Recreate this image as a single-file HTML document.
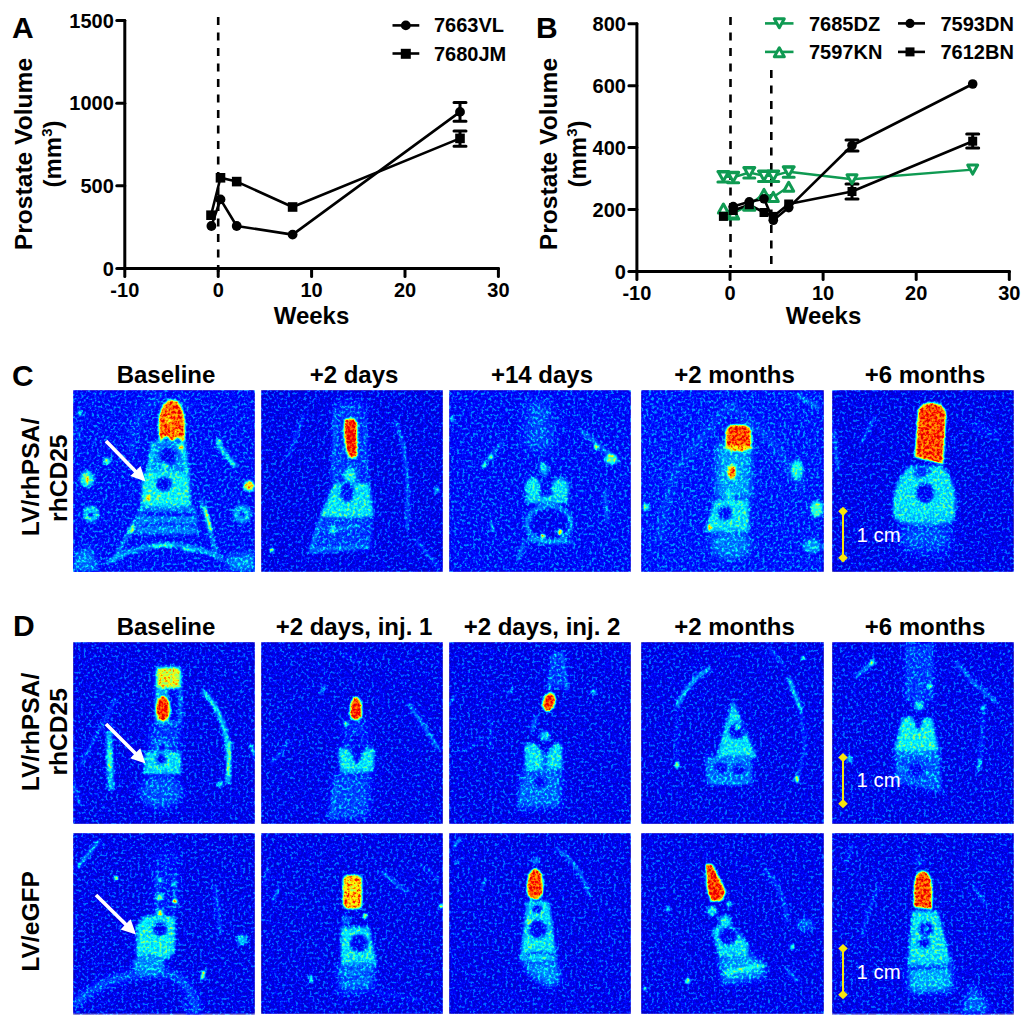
<!DOCTYPE html>
<html><head><meta charset="utf-8"><style>
html,body{margin:0;padding:0;background:#fff;width:1024px;height:1024px;overflow:hidden}
svg{display:block}
.t20{font-family:"Liberation Sans", sans-serif;font-weight:bold;font-size:20px}
.t24{font-family:"Liberation Sans", sans-serif;font-weight:bold;font-size:24px}
.t29{font-family:"Liberation Sans", sans-serif;font-weight:bold;font-size:30px}
.rl{font-size:24.6px}
svg text{-webkit-font-smoothing:antialiased}
.sc{font-family:"Liberation Sans", sans-serif;font-size:21px;fill:#fff}
</style></head><body>
<svg width="1024" height="1024" viewBox="0 0 1024 1024">
<rect width="1024" height="1024" fill="#fff"/>
<defs>
<filter id="jet1" x="0" y="0" width="1" height="1" color-interpolation-filters="sRGB" filterUnits="objectBoundingBox">
 <feGaussianBlur in="SourceGraphic" stdDeviation="0.8" result="b"/>
 <feTurbulence type="fractalNoise" baseFrequency="0.37" numOctaves="2" seed="1" result="n0"/>
 <feGaussianBlur in="n0" stdDeviation="0.45" result="n"/>
 <feColorMatrix in="n" type="matrix" values="1 0 0 0 0 1 0 0 0 0 1 0 0 0 0 0 0 0 0 1" result="ng"/>
 <feComponentTransfer in="ng" result="ns">
  <feFuncR type="linear" slope="2.4" intercept="-0.7"/><feFuncG type="linear" slope="2.4" intercept="-0.7"/><feFuncB type="linear" slope="2.4" intercept="-0.7"/>
 </feComponentTransfer>
 <feComponentTransfer in="ns" result="nq">
  <feFuncR type="gamma" amplitude="1" exponent="2.5" offset="0"/><feFuncG type="gamma" amplitude="1" exponent="2.5" offset="0"/><feFuncB type="gamma" amplitude="1" exponent="2.5" offset="0"/>
 </feComponentTransfer>
 <feComposite in="b" in2="nq" operator="arithmetic" k1="0" k2="1" k3="0.13" k4="-0.035" result="s1"/>
 <feComposite in="s1" in2="ns" operator="arithmetic" k1="0.18" k2="0.91" k3="0" k4="0" result="s"/>
 <feComponentTransfer in="s">
  <feFuncR type="table" tableValues="0 0 0 0 0.5 1 1 1 0.85"/>
  <feFuncG type="table" tableValues="0 0 0.5 1 1 1 0.5 0 0"/>
  <feFuncB type="table" tableValues="0.5 1 1 1 0.5 0 0 0 0"/>
 </feComponentTransfer>
</filter>
<filter id="jet2" x="0" y="0" width="1" height="1" color-interpolation-filters="sRGB" filterUnits="objectBoundingBox">
 <feGaussianBlur in="SourceGraphic" stdDeviation="0.8" result="b"/>
 <feTurbulence type="fractalNoise" baseFrequency="0.37" numOctaves="2" seed="2" result="n0"/>
 <feGaussianBlur in="n0" stdDeviation="0.45" result="n"/>
 <feColorMatrix in="n" type="matrix" values="1 0 0 0 0 1 0 0 0 0 1 0 0 0 0 0 0 0 0 1" result="ng"/>
 <feComponentTransfer in="ng" result="ns">
  <feFuncR type="linear" slope="2.4" intercept="-0.7"/><feFuncG type="linear" slope="2.4" intercept="-0.7"/><feFuncB type="linear" slope="2.4" intercept="-0.7"/>
 </feComponentTransfer>
 <feComponentTransfer in="ns" result="nq">
  <feFuncR type="gamma" amplitude="1" exponent="2.5" offset="0"/><feFuncG type="gamma" amplitude="1" exponent="2.5" offset="0"/><feFuncB type="gamma" amplitude="1" exponent="2.5" offset="0"/>
 </feComponentTransfer>
 <feComposite in="b" in2="nq" operator="arithmetic" k1="0" k2="1" k3="0.13" k4="-0.035" result="s1"/>
 <feComposite in="s1" in2="ns" operator="arithmetic" k1="0.18" k2="0.91" k3="0" k4="0" result="s"/>
 <feComponentTransfer in="s">
  <feFuncR type="table" tableValues="0 0 0 0 0.5 1 1 1 0.85"/>
  <feFuncG type="table" tableValues="0 0 0.5 1 1 1 0.5 0 0"/>
  <feFuncB type="table" tableValues="0.5 1 1 1 0.5 0 0 0 0"/>
 </feComponentTransfer>
</filter>
<filter id="jet3" x="0" y="0" width="1" height="1" color-interpolation-filters="sRGB" filterUnits="objectBoundingBox">
 <feGaussianBlur in="SourceGraphic" stdDeviation="0.8" result="b"/>
 <feTurbulence type="fractalNoise" baseFrequency="0.37" numOctaves="2" seed="3" result="n0"/>
 <feGaussianBlur in="n0" stdDeviation="0.45" result="n"/>
 <feColorMatrix in="n" type="matrix" values="1 0 0 0 0 1 0 0 0 0 1 0 0 0 0 0 0 0 0 1" result="ng"/>
 <feComponentTransfer in="ng" result="ns">
  <feFuncR type="linear" slope="2.4" intercept="-0.7"/><feFuncG type="linear" slope="2.4" intercept="-0.7"/><feFuncB type="linear" slope="2.4" intercept="-0.7"/>
 </feComponentTransfer>
 <feComponentTransfer in="ns" result="nq">
  <feFuncR type="gamma" amplitude="1" exponent="2.5" offset="0"/><feFuncG type="gamma" amplitude="1" exponent="2.5" offset="0"/><feFuncB type="gamma" amplitude="1" exponent="2.5" offset="0"/>
 </feComponentTransfer>
 <feComposite in="b" in2="nq" operator="arithmetic" k1="0" k2="1" k3="0.13" k4="-0.035" result="s1"/>
 <feComposite in="s1" in2="ns" operator="arithmetic" k1="0.18" k2="0.91" k3="0" k4="0" result="s"/>
 <feComponentTransfer in="s">
  <feFuncR type="table" tableValues="0 0 0 0 0.5 1 1 1 0.85"/>
  <feFuncG type="table" tableValues="0 0 0.5 1 1 1 0.5 0 0"/>
  <feFuncB type="table" tableValues="0.5 1 1 1 0.5 0 0 0 0"/>
 </feComponentTransfer>
</filter>
<filter id="jet4" x="0" y="0" width="1" height="1" color-interpolation-filters="sRGB" filterUnits="objectBoundingBox">
 <feGaussianBlur in="SourceGraphic" stdDeviation="0.8" result="b"/>
 <feTurbulence type="fractalNoise" baseFrequency="0.37" numOctaves="2" seed="4" result="n0"/>
 <feGaussianBlur in="n0" stdDeviation="0.45" result="n"/>
 <feColorMatrix in="n" type="matrix" values="1 0 0 0 0 1 0 0 0 0 1 0 0 0 0 0 0 0 0 1" result="ng"/>
 <feComponentTransfer in="ng" result="ns">
  <feFuncR type="linear" slope="2.4" intercept="-0.7"/><feFuncG type="linear" slope="2.4" intercept="-0.7"/><feFuncB type="linear" slope="2.4" intercept="-0.7"/>
 </feComponentTransfer>
 <feComponentTransfer in="ns" result="nq">
  <feFuncR type="gamma" amplitude="1" exponent="2.5" offset="0"/><feFuncG type="gamma" amplitude="1" exponent="2.5" offset="0"/><feFuncB type="gamma" amplitude="1" exponent="2.5" offset="0"/>
 </feComponentTransfer>
 <feComposite in="b" in2="nq" operator="arithmetic" k1="0" k2="1" k3="0.13" k4="-0.035" result="s1"/>
 <feComposite in="s1" in2="ns" operator="arithmetic" k1="0.18" k2="0.91" k3="0" k4="0" result="s"/>
 <feComponentTransfer in="s">
  <feFuncR type="table" tableValues="0 0 0 0 0.5 1 1 1 0.85"/>
  <feFuncG type="table" tableValues="0 0 0.5 1 1 1 0.5 0 0"/>
  <feFuncB type="table" tableValues="0.5 1 1 1 0.5 0 0 0 0"/>
 </feComponentTransfer>
</filter>
<filter id="jet5" x="0" y="0" width="1" height="1" color-interpolation-filters="sRGB" filterUnits="objectBoundingBox">
 <feGaussianBlur in="SourceGraphic" stdDeviation="0.8" result="b"/>
 <feTurbulence type="fractalNoise" baseFrequency="0.37" numOctaves="2" seed="5" result="n0"/>
 <feGaussianBlur in="n0" stdDeviation="0.45" result="n"/>
 <feColorMatrix in="n" type="matrix" values="1 0 0 0 0 1 0 0 0 0 1 0 0 0 0 0 0 0 0 1" result="ng"/>
 <feComponentTransfer in="ng" result="ns">
  <feFuncR type="linear" slope="2.4" intercept="-0.7"/><feFuncG type="linear" slope="2.4" intercept="-0.7"/><feFuncB type="linear" slope="2.4" intercept="-0.7"/>
 </feComponentTransfer>
 <feComponentTransfer in="ns" result="nq">
  <feFuncR type="gamma" amplitude="1" exponent="2.5" offset="0"/><feFuncG type="gamma" amplitude="1" exponent="2.5" offset="0"/><feFuncB type="gamma" amplitude="1" exponent="2.5" offset="0"/>
 </feComponentTransfer>
 <feComposite in="b" in2="nq" operator="arithmetic" k1="0" k2="1" k3="0.13" k4="-0.035" result="s1"/>
 <feComposite in="s1" in2="ns" operator="arithmetic" k1="0.18" k2="0.91" k3="0" k4="0" result="s"/>
 <feComponentTransfer in="s">
  <feFuncR type="table" tableValues="0 0 0 0 0.5 1 1 1 0.85"/>
  <feFuncG type="table" tableValues="0 0 0.5 1 1 1 0.5 0 0"/>
  <feFuncB type="table" tableValues="0.5 1 1 1 0.5 0 0 0 0"/>
 </feComponentTransfer>
</filter>
<filter id="jet6" x="0" y="0" width="1" height="1" color-interpolation-filters="sRGB" filterUnits="objectBoundingBox">
 <feGaussianBlur in="SourceGraphic" stdDeviation="0.8" result="b"/>
 <feTurbulence type="fractalNoise" baseFrequency="0.37" numOctaves="2" seed="6" result="n0"/>
 <feGaussianBlur in="n0" stdDeviation="0.45" result="n"/>
 <feColorMatrix in="n" type="matrix" values="1 0 0 0 0 1 0 0 0 0 1 0 0 0 0 0 0 0 0 1" result="ng"/>
 <feComponentTransfer in="ng" result="ns">
  <feFuncR type="linear" slope="2.4" intercept="-0.7"/><feFuncG type="linear" slope="2.4" intercept="-0.7"/><feFuncB type="linear" slope="2.4" intercept="-0.7"/>
 </feComponentTransfer>
 <feComponentTransfer in="ns" result="nq">
  <feFuncR type="gamma" amplitude="1" exponent="2.5" offset="0"/><feFuncG type="gamma" amplitude="1" exponent="2.5" offset="0"/><feFuncB type="gamma" amplitude="1" exponent="2.5" offset="0"/>
 </feComponentTransfer>
 <feComposite in="b" in2="nq" operator="arithmetic" k1="0" k2="1" k3="0.13" k4="-0.035" result="s1"/>
 <feComposite in="s1" in2="ns" operator="arithmetic" k1="0.18" k2="0.91" k3="0" k4="0" result="s"/>
 <feComponentTransfer in="s">
  <feFuncR type="table" tableValues="0 0 0 0 0.5 1 1 1 0.85"/>
  <feFuncG type="table" tableValues="0 0 0.5 1 1 1 0.5 0 0"/>
  <feFuncB type="table" tableValues="0.5 1 1 1 0.5 0 0 0 0"/>
 </feComponentTransfer>
</filter>
<filter id="jet7" x="0" y="0" width="1" height="1" color-interpolation-filters="sRGB" filterUnits="objectBoundingBox">
 <feGaussianBlur in="SourceGraphic" stdDeviation="0.8" result="b"/>
 <feTurbulence type="fractalNoise" baseFrequency="0.37" numOctaves="2" seed="7" result="n0"/>
 <feGaussianBlur in="n0" stdDeviation="0.45" result="n"/>
 <feColorMatrix in="n" type="matrix" values="1 0 0 0 0 1 0 0 0 0 1 0 0 0 0 0 0 0 0 1" result="ng"/>
 <feComponentTransfer in="ng" result="ns">
  <feFuncR type="linear" slope="2.4" intercept="-0.7"/><feFuncG type="linear" slope="2.4" intercept="-0.7"/><feFuncB type="linear" slope="2.4" intercept="-0.7"/>
 </feComponentTransfer>
 <feComponentTransfer in="ns" result="nq">
  <feFuncR type="gamma" amplitude="1" exponent="2.5" offset="0"/><feFuncG type="gamma" amplitude="1" exponent="2.5" offset="0"/><feFuncB type="gamma" amplitude="1" exponent="2.5" offset="0"/>
 </feComponentTransfer>
 <feComposite in="b" in2="nq" operator="arithmetic" k1="0" k2="1" k3="0.13" k4="-0.035" result="s1"/>
 <feComposite in="s1" in2="ns" operator="arithmetic" k1="0.18" k2="0.91" k3="0" k4="0" result="s"/>
 <feComponentTransfer in="s">
  <feFuncR type="table" tableValues="0 0 0 0 0.5 1 1 1 0.85"/>
  <feFuncG type="table" tableValues="0 0 0.5 1 1 1 0.5 0 0"/>
  <feFuncB type="table" tableValues="0.5 1 1 1 0.5 0 0 0 0"/>
 </feComponentTransfer>
</filter>
<filter id="jet8" x="0" y="0" width="1" height="1" color-interpolation-filters="sRGB" filterUnits="objectBoundingBox">
 <feGaussianBlur in="SourceGraphic" stdDeviation="0.8" result="b"/>
 <feTurbulence type="fractalNoise" baseFrequency="0.37" numOctaves="2" seed="8" result="n0"/>
 <feGaussianBlur in="n0" stdDeviation="0.45" result="n"/>
 <feColorMatrix in="n" type="matrix" values="1 0 0 0 0 1 0 0 0 0 1 0 0 0 0 0 0 0 0 1" result="ng"/>
 <feComponentTransfer in="ng" result="ns">
  <feFuncR type="linear" slope="2.4" intercept="-0.7"/><feFuncG type="linear" slope="2.4" intercept="-0.7"/><feFuncB type="linear" slope="2.4" intercept="-0.7"/>
 </feComponentTransfer>
 <feComponentTransfer in="ns" result="nq">
  <feFuncR type="gamma" amplitude="1" exponent="2.5" offset="0"/><feFuncG type="gamma" amplitude="1" exponent="2.5" offset="0"/><feFuncB type="gamma" amplitude="1" exponent="2.5" offset="0"/>
 </feComponentTransfer>
 <feComposite in="b" in2="nq" operator="arithmetic" k1="0" k2="1" k3="0.13" k4="-0.035" result="s1"/>
 <feComposite in="s1" in2="ns" operator="arithmetic" k1="0.18" k2="0.91" k3="0" k4="0" result="s"/>
 <feComponentTransfer in="s">
  <feFuncR type="table" tableValues="0 0 0 0 0.5 1 1 1 0.85"/>
  <feFuncG type="table" tableValues="0 0 0.5 1 1 1 0.5 0 0"/>
  <feFuncB type="table" tableValues="0.5 1 1 1 0.5 0 0 0 0"/>
 </feComponentTransfer>
</filter>
<filter id="jet9" x="0" y="0" width="1" height="1" color-interpolation-filters="sRGB" filterUnits="objectBoundingBox">
 <feGaussianBlur in="SourceGraphic" stdDeviation="0.8" result="b"/>
 <feTurbulence type="fractalNoise" baseFrequency="0.37" numOctaves="2" seed="9" result="n0"/>
 <feGaussianBlur in="n0" stdDeviation="0.45" result="n"/>
 <feColorMatrix in="n" type="matrix" values="1 0 0 0 0 1 0 0 0 0 1 0 0 0 0 0 0 0 0 1" result="ng"/>
 <feComponentTransfer in="ng" result="ns">
  <feFuncR type="linear" slope="2.4" intercept="-0.7"/><feFuncG type="linear" slope="2.4" intercept="-0.7"/><feFuncB type="linear" slope="2.4" intercept="-0.7"/>
 </feComponentTransfer>
 <feComponentTransfer in="ns" result="nq">
  <feFuncR type="gamma" amplitude="1" exponent="2.5" offset="0"/><feFuncG type="gamma" amplitude="1" exponent="2.5" offset="0"/><feFuncB type="gamma" amplitude="1" exponent="2.5" offset="0"/>
 </feComponentTransfer>
 <feComposite in="b" in2="nq" operator="arithmetic" k1="0" k2="1" k3="0.13" k4="-0.035" result="s1"/>
 <feComposite in="s1" in2="ns" operator="arithmetic" k1="0.18" k2="0.91" k3="0" k4="0" result="s"/>
 <feComponentTransfer in="s">
  <feFuncR type="table" tableValues="0 0 0 0 0.5 1 1 1 0.85"/>
  <feFuncG type="table" tableValues="0 0 0.5 1 1 1 0.5 0 0"/>
  <feFuncB type="table" tableValues="0.5 1 1 1 0.5 0 0 0 0"/>
 </feComponentTransfer>
</filter>
<filter id="jet10" x="0" y="0" width="1" height="1" color-interpolation-filters="sRGB" filterUnits="objectBoundingBox">
 <feGaussianBlur in="SourceGraphic" stdDeviation="0.8" result="b"/>
 <feTurbulence type="fractalNoise" baseFrequency="0.37" numOctaves="2" seed="10" result="n0"/>
 <feGaussianBlur in="n0" stdDeviation="0.45" result="n"/>
 <feColorMatrix in="n" type="matrix" values="1 0 0 0 0 1 0 0 0 0 1 0 0 0 0 0 0 0 0 1" result="ng"/>
 <feComponentTransfer in="ng" result="ns">
  <feFuncR type="linear" slope="2.4" intercept="-0.7"/><feFuncG type="linear" slope="2.4" intercept="-0.7"/><feFuncB type="linear" slope="2.4" intercept="-0.7"/>
 </feComponentTransfer>
 <feComponentTransfer in="ns" result="nq">
  <feFuncR type="gamma" amplitude="1" exponent="2.5" offset="0"/><feFuncG type="gamma" amplitude="1" exponent="2.5" offset="0"/><feFuncB type="gamma" amplitude="1" exponent="2.5" offset="0"/>
 </feComponentTransfer>
 <feComposite in="b" in2="nq" operator="arithmetic" k1="0" k2="1" k3="0.13" k4="-0.035" result="s1"/>
 <feComposite in="s1" in2="ns" operator="arithmetic" k1="0.18" k2="0.91" k3="0" k4="0" result="s"/>
 <feComponentTransfer in="s">
  <feFuncR type="table" tableValues="0 0 0 0 0.5 1 1 1 0.85"/>
  <feFuncG type="table" tableValues="0 0 0.5 1 1 1 0.5 0 0"/>
  <feFuncB type="table" tableValues="0.5 1 1 1 0.5 0 0 0 0"/>
 </feComponentTransfer>
</filter>
<filter id="jet11" x="0" y="0" width="1" height="1" color-interpolation-filters="sRGB" filterUnits="objectBoundingBox">
 <feGaussianBlur in="SourceGraphic" stdDeviation="0.8" result="b"/>
 <feTurbulence type="fractalNoise" baseFrequency="0.37" numOctaves="2" seed="11" result="n0"/>
 <feGaussianBlur in="n0" stdDeviation="0.45" result="n"/>
 <feColorMatrix in="n" type="matrix" values="1 0 0 0 0 1 0 0 0 0 1 0 0 0 0 0 0 0 0 1" result="ng"/>
 <feComponentTransfer in="ng" result="ns">
  <feFuncR type="linear" slope="2.4" intercept="-0.7"/><feFuncG type="linear" slope="2.4" intercept="-0.7"/><feFuncB type="linear" slope="2.4" intercept="-0.7"/>
 </feComponentTransfer>
 <feComponentTransfer in="ns" result="nq">
  <feFuncR type="gamma" amplitude="1" exponent="2.5" offset="0"/><feFuncG type="gamma" amplitude="1" exponent="2.5" offset="0"/><feFuncB type="gamma" amplitude="1" exponent="2.5" offset="0"/>
 </feComponentTransfer>
 <feComposite in="b" in2="nq" operator="arithmetic" k1="0" k2="1" k3="0.13" k4="-0.035" result="s1"/>
 <feComposite in="s1" in2="ns" operator="arithmetic" k1="0.18" k2="0.91" k3="0" k4="0" result="s"/>
 <feComponentTransfer in="s">
  <feFuncR type="table" tableValues="0 0 0 0 0.5 1 1 1 0.85"/>
  <feFuncG type="table" tableValues="0 0 0.5 1 1 1 0.5 0 0"/>
  <feFuncB type="table" tableValues="0.5 1 1 1 0.5 0 0 0 0"/>
 </feComponentTransfer>
</filter>
<filter id="jet12" x="0" y="0" width="1" height="1" color-interpolation-filters="sRGB" filterUnits="objectBoundingBox">
 <feGaussianBlur in="SourceGraphic" stdDeviation="0.8" result="b"/>
 <feTurbulence type="fractalNoise" baseFrequency="0.37" numOctaves="2" seed="12" result="n0"/>
 <feGaussianBlur in="n0" stdDeviation="0.45" result="n"/>
 <feColorMatrix in="n" type="matrix" values="1 0 0 0 0 1 0 0 0 0 1 0 0 0 0 0 0 0 0 1" result="ng"/>
 <feComponentTransfer in="ng" result="ns">
  <feFuncR type="linear" slope="2.4" intercept="-0.7"/><feFuncG type="linear" slope="2.4" intercept="-0.7"/><feFuncB type="linear" slope="2.4" intercept="-0.7"/>
 </feComponentTransfer>
 <feComponentTransfer in="ns" result="nq">
  <feFuncR type="gamma" amplitude="1" exponent="2.5" offset="0"/><feFuncG type="gamma" amplitude="1" exponent="2.5" offset="0"/><feFuncB type="gamma" amplitude="1" exponent="2.5" offset="0"/>
 </feComponentTransfer>
 <feComposite in="b" in2="nq" operator="arithmetic" k1="0" k2="1" k3="0.13" k4="-0.035" result="s1"/>
 <feComposite in="s1" in2="ns" operator="arithmetic" k1="0.18" k2="0.91" k3="0" k4="0" result="s"/>
 <feComponentTransfer in="s">
  <feFuncR type="table" tableValues="0 0 0 0 0.5 1 1 1 0.85"/>
  <feFuncG type="table" tableValues="0 0 0.5 1 1 1 0.5 0 0"/>
  <feFuncB type="table" tableValues="0.5 1 1 1 0.5 0 0 0 0"/>
 </feComponentTransfer>
</filter>
<filter id="jet13" x="0" y="0" width="1" height="1" color-interpolation-filters="sRGB" filterUnits="objectBoundingBox">
 <feGaussianBlur in="SourceGraphic" stdDeviation="0.8" result="b"/>
 <feTurbulence type="fractalNoise" baseFrequency="0.37" numOctaves="2" seed="13" result="n0"/>
 <feGaussianBlur in="n0" stdDeviation="0.45" result="n"/>
 <feColorMatrix in="n" type="matrix" values="1 0 0 0 0 1 0 0 0 0 1 0 0 0 0 0 0 0 0 1" result="ng"/>
 <feComponentTransfer in="ng" result="ns">
  <feFuncR type="linear" slope="2.4" intercept="-0.7"/><feFuncG type="linear" slope="2.4" intercept="-0.7"/><feFuncB type="linear" slope="2.4" intercept="-0.7"/>
 </feComponentTransfer>
 <feComponentTransfer in="ns" result="nq">
  <feFuncR type="gamma" amplitude="1" exponent="2.5" offset="0"/><feFuncG type="gamma" amplitude="1" exponent="2.5" offset="0"/><feFuncB type="gamma" amplitude="1" exponent="2.5" offset="0"/>
 </feComponentTransfer>
 <feComposite in="b" in2="nq" operator="arithmetic" k1="0" k2="1" k3="0.13" k4="-0.035" result="s1"/>
 <feComposite in="s1" in2="ns" operator="arithmetic" k1="0.18" k2="0.91" k3="0" k4="0" result="s"/>
 <feComponentTransfer in="s">
  <feFuncR type="table" tableValues="0 0 0 0 0.5 1 1 1 0.85"/>
  <feFuncG type="table" tableValues="0 0 0.5 1 1 1 0.5 0 0"/>
  <feFuncB type="table" tableValues="0.5 1 1 1 0.5 0 0 0 0"/>
 </feComponentTransfer>
</filter>
<filter id="jet14" x="0" y="0" width="1" height="1" color-interpolation-filters="sRGB" filterUnits="objectBoundingBox">
 <feGaussianBlur in="SourceGraphic" stdDeviation="0.8" result="b"/>
 <feTurbulence type="fractalNoise" baseFrequency="0.37" numOctaves="2" seed="14" result="n0"/>
 <feGaussianBlur in="n0" stdDeviation="0.45" result="n"/>
 <feColorMatrix in="n" type="matrix" values="1 0 0 0 0 1 0 0 0 0 1 0 0 0 0 0 0 0 0 1" result="ng"/>
 <feComponentTransfer in="ng" result="ns">
  <feFuncR type="linear" slope="2.4" intercept="-0.7"/><feFuncG type="linear" slope="2.4" intercept="-0.7"/><feFuncB type="linear" slope="2.4" intercept="-0.7"/>
 </feComponentTransfer>
 <feComponentTransfer in="ns" result="nq">
  <feFuncR type="gamma" amplitude="1" exponent="2.5" offset="0"/><feFuncG type="gamma" amplitude="1" exponent="2.5" offset="0"/><feFuncB type="gamma" amplitude="1" exponent="2.5" offset="0"/>
 </feComponentTransfer>
 <feComposite in="b" in2="nq" operator="arithmetic" k1="0" k2="1" k3="0.13" k4="-0.035" result="s1"/>
 <feComposite in="s1" in2="ns" operator="arithmetic" k1="0.18" k2="0.91" k3="0" k4="0" result="s"/>
 <feComponentTransfer in="s">
  <feFuncR type="table" tableValues="0 0 0 0 0.5 1 1 1 0.85"/>
  <feFuncG type="table" tableValues="0 0 0.5 1 1 1 0.5 0 0"/>
  <feFuncB type="table" tableValues="0.5 1 1 1 0.5 0 0 0 0"/>
 </feComponentTransfer>
</filter>
<filter id="jet15" x="0" y="0" width="1" height="1" color-interpolation-filters="sRGB" filterUnits="objectBoundingBox">
 <feGaussianBlur in="SourceGraphic" stdDeviation="0.8" result="b"/>
 <feTurbulence type="fractalNoise" baseFrequency="0.37" numOctaves="2" seed="15" result="n0"/>
 <feGaussianBlur in="n0" stdDeviation="0.45" result="n"/>
 <feColorMatrix in="n" type="matrix" values="1 0 0 0 0 1 0 0 0 0 1 0 0 0 0 0 0 0 0 1" result="ng"/>
 <feComponentTransfer in="ng" result="ns">
  <feFuncR type="linear" slope="2.4" intercept="-0.7"/><feFuncG type="linear" slope="2.4" intercept="-0.7"/><feFuncB type="linear" slope="2.4" intercept="-0.7"/>
 </feComponentTransfer>
 <feComponentTransfer in="ns" result="nq">
  <feFuncR type="gamma" amplitude="1" exponent="2.5" offset="0"/><feFuncG type="gamma" amplitude="1" exponent="2.5" offset="0"/><feFuncB type="gamma" amplitude="1" exponent="2.5" offset="0"/>
 </feComponentTransfer>
 <feComposite in="b" in2="nq" operator="arithmetic" k1="0" k2="1" k3="0.13" k4="-0.035" result="s1"/>
 <feComposite in="s1" in2="ns" operator="arithmetic" k1="0.18" k2="0.91" k3="0" k4="0" result="s"/>
 <feComponentTransfer in="s">
  <feFuncR type="table" tableValues="0 0 0 0 0.5 1 1 1 0.85"/>
  <feFuncG type="table" tableValues="0 0 0.5 1 1 1 0.5 0 0"/>
  <feFuncB type="table" tableValues="0.5 1 1 1 0.5 0 0 0 0"/>
 </feComponentTransfer>
</filter>
<filter id="bl1" filterUnits="userSpaceOnUse" x="-30" y="-30" width="242" height="242"><feGaussianBlur stdDeviation="1.1"/></filter>
<filter id="bl2" filterUnits="userSpaceOnUse" x="-30" y="-30" width="242" height="242"><feGaussianBlur stdDeviation="3"/></filter>
<filter id="bl3" filterUnits="userSpaceOnUse" x="-30" y="-30" width="242" height="242"><feGaussianBlur stdDeviation="6"/></filter>
</defs>
<g transform="translate(73,390)"><g filter="url(#jet1)"><rect width="182" height="182" fill="rgb(31,31,31)"/><rect x="0" y="0" width="182" height="182" rx="0" fill="rgb(38,38,38)"/><path d="M90,2 L64,28 L58,60" fill="none" stroke="rgb(61,61,61)" stroke-width="4" stroke-linecap="round" filter="url(#bl2)"/><path d="M106,4 L118,20" fill="none" stroke="rgb(61,61,61)" stroke-width="3" stroke-linecap="round" filter="url(#bl2)"/><path d="M82,50 L112,50 L116,86 L72,86 Z" fill="rgb(69,69,69)" filter="url(#bl1)" /><path d="M80,54 L76,84" fill="none" stroke="rgb(93,93,93)" stroke-width="4" stroke-linecap="round" filter="url(#bl1)"/><path d="M110,54 L114,84" fill="none" stroke="rgb(93,93,93)" stroke-width="4" stroke-linecap="round" filter="url(#bl1)"/><ellipse cx="95" cy="66" rx="8" ry="9" fill="rgb(36,36,36)" filter="url(#bl1)"/><ellipse cx="92" cy="76" rx="3" ry="3" fill="rgb(128,128,128)" filter="url(#bl1)"/><ellipse cx="108" cy="57" rx="2.5" ry="3" fill="rgb(153,153,153)"/><path d="M70,84 C78,80 108,80 116,86 L118,116 C105,120 80,120 68,116 Z" fill="rgb(98,98,98)" filter="url(#bl1)" /><ellipse cx="91" cy="94" rx="8" ry="7" fill="rgb(36,36,36)" filter="url(#bl1)"/><ellipse cx="75" cy="108" rx="2" ry="3" fill="rgb(191,191,191)"/><path d="M66,116 L122,116 L126,144 L62,144 Z" fill="rgb(69,69,69)" filter="url(#bl1)" /><path d="M70,124 L120,124" fill="none" stroke="rgb(36,36,36)" stroke-width="3.5" stroke-linecap="round" filter="url(#bl1)"/><path d="M68,136 Q92,132 122,136" fill="none" stroke="rgb(38,38,38)" stroke-width="2.5" stroke-linecap="round" filter="url(#bl1)"/><path d="M62,130 L41,171" fill="none" stroke="rgb(83,83,83)" stroke-width="3" stroke-linecap="round" filter="url(#bl1)"/><ellipse cx="59" cy="140" rx="2" ry="4" fill="rgb(153,153,153)" transform="rotate(25 59 140)"/><path d="M128,110 L143,162" fill="none" stroke="rgb(83,83,83)" stroke-width="3" stroke-linecap="round" filter="url(#bl1)"/><path d="M132,118 L138,140" fill="none" stroke="rgb(178,178,178)" stroke-width="2" stroke-linecap="round"/><path d="M35,172 Q90,140 148,168" fill="none" stroke="rgb(88,88,88)" stroke-width="3.5" stroke-linecap="round" filter="url(#bl1)"/><path d="M80,156 L100,155" fill="none" stroke="rgb(153,153,153)" stroke-width="1.5" stroke-linecap="round"/><path d="M110,159 L122,161" fill="none" stroke="rgb(153,153,153)" stroke-width="1.5" stroke-linecap="round"/><path d="M86,40 C85,22 90,10 99,10 C108,10 112,22 112,40 L111,52 L105,47 L99,51 L93,46 L87,52 Z" fill="rgb(204,204,204)" /><ellipse cx="96" cy="30" rx="3" ry="4" fill="rgb(168,168,168)"/><ellipse cx="104" cy="42" rx="2" ry="3" fill="rgb(168,168,168)"/><ellipse cx="92" cy="20" rx="2" ry="2" fill="rgb(178,178,178)"/><ellipse cx="14" cy="89" rx="7" ry="8" fill="rgb(103,103,103)" filter="url(#bl1)"/><ellipse cx="14" cy="89" rx="2.5" ry="3" fill="rgb(158,158,158)"/><ellipse cx="18" cy="124" rx="8" ry="8" fill="rgb(93,93,93)" filter="url(#bl1)"/><ellipse cx="18" cy="124" rx="3" ry="3" fill="rgb(41,41,41)"/><ellipse cx="34" cy="71" rx="3" ry="3" fill="rgb(140,140,140)" filter="url(#bl1)"/><ellipse cx="7" cy="23" rx="2" ry="3" fill="rgb(98,98,98)"/><path d="M0,30 L8,50" fill="none" stroke="rgb(66,66,66)" stroke-width="2" stroke-linecap="round" filter="url(#bl1)"/><ellipse cx="176" cy="96" rx="5" ry="5" fill="rgb(173,173,173)" filter="url(#bl1)"/><ellipse cx="169" cy="124" rx="9" ry="9" fill="rgb(83,83,83)" filter="url(#bl1)"/><ellipse cx="169" cy="124" rx="3" ry="3" fill="rgb(41,41,41)"/><path d="M146,56 L162,76" fill="none" stroke="rgb(122,122,122)" stroke-width="3" stroke-linecap="round" filter="url(#bl1)"/><ellipse cx="146" cy="52" rx="3" ry="3" fill="rgb(115,115,115)"/><path d="M150,168 L182,162 L182,182 L160,182 Z" fill="rgb(71,71,71)" filter="url(#bl2)" /><path d="M0,162 L20,158 L25,182 L0,182 Z" fill="rgb(66,66,66)" filter="url(#bl2)" /></g><polygon fill="#fff" points="31.7,52.3 61.1,82.4 57.2,86.1 72.5,91.5 67.5,76.1 63.7,79.9 34.3,49.7"/></g>
<g transform="translate(261,390)"><g filter="url(#jet2)"><rect width="182" height="182" fill="rgb(31,31,31)"/><path d="M74,11 L104,11 L105,94 L73,94 Z" fill="rgb(48,48,48)" filter="url(#bl2)" /><path d="M74,20 L72,90" fill="none" stroke="rgb(66,66,66)" stroke-width="3" stroke-linecap="round" filter="url(#bl1)"/><path d="M104,30 L106,90" fill="none" stroke="rgb(61,61,61)" stroke-width="3" stroke-linecap="round" filter="url(#bl1)"/><ellipse cx="89" cy="86" rx="6" ry="8" fill="rgb(98,98,98)" filter="url(#bl1)"/><path d="M73,93 L108,93 L113,126 C100,130 70,130 59,126 Z" fill="rgb(93,93,93)" filter="url(#bl1)" /><ellipse cx="86" cy="102" rx="7" ry="10" fill="rgb(38,38,38)" filter="url(#bl1)"/><path d="M60,128 L112,128 L110,160 L50,164 Z" fill="rgb(51,51,51)" filter="url(#bl1)" /><path d="M60,128 L49,162" fill="none" stroke="rgb(78,78,78)" stroke-width="3" stroke-linecap="round" filter="url(#bl1)"/><path d="M66,140 L96,136" fill="none" stroke="rgb(78,78,78)" stroke-width="2.5" stroke-linecap="round" filter="url(#bl1)"/><path d="M52,160 L108,156" fill="none" stroke="rgb(76,76,76)" stroke-width="2.5" stroke-linecap="round" filter="url(#bl1)"/><ellipse cx="72" cy="140" rx="2" ry="4" fill="rgb(115,115,115)"/><path d="M84,31 C86,27 95,28 96,34 L96,64 C95,69 89,69 87,65 C84,55 82,40 84,31 Z" fill="rgb(219,219,219)" /><ellipse cx="89" cy="45" rx="2.5" ry="6" fill="rgb(235,235,235)"/><path d="M135,32 Q150,70 146,139" fill="none" stroke="rgb(76,76,76)" stroke-width="2.5" stroke-linecap="round" filter="url(#bl1)"/><path d="M27,67 L43,25" fill="none" stroke="rgb(71,71,71)" stroke-width="2" stroke-linecap="round" filter="url(#bl1)"/><path d="M155,150 L178,178" fill="none" stroke="rgb(66,66,66)" stroke-width="2.5" stroke-linecap="round" filter="url(#bl1)"/><ellipse cx="11" cy="160" rx="2" ry="2" fill="rgb(153,153,153)"/><ellipse cx="176" cy="100" rx="3" ry="3" fill="rgb(85,85,85)"/></g></g>
<g transform="translate(449,390)"><g filter="url(#jet3)"><rect width="182" height="182" fill="rgb(31,31,31)"/><rect x="0" y="0" width="182" height="182" rx="0" fill="rgb(37,37,37)"/><path d="M78,11 L100,11 L104,60 L76,60 Z" fill="rgb(56,56,56)" filter="url(#bl3)" /><path d="M92,70 L100,78 L96,88 L90,78 Z" fill="rgb(88,88,88)" filter="url(#bl1)" /><ellipse cx="84" cy="98" rx="8" ry="11" fill="rgb(91,91,91)" filter="url(#bl1)"/><ellipse cx="111" cy="99" rx="9" ry="11" fill="rgb(91,91,91)" filter="url(#bl1)"/><path d="M77,106 L119,106 L119,113 L77,113 Z" fill="rgb(88,88,88)" filter="url(#bl1)" /><ellipse cx="98" cy="95" rx="5" ry="7" fill="rgb(38,38,38)" filter="url(#bl1)"/><ellipse cx="100" cy="134" rx="24" ry="20" fill="rgb(78,78,78)" filter="url(#bl1)"/><ellipse cx="100" cy="134" rx="20" ry="16" fill="rgb(33,33,33)" filter="url(#bl1)"/><ellipse cx="111" cy="142" rx="2" ry="2.5" fill="rgb(219,219,219)"/><ellipse cx="94" cy="146" rx="2.5" ry="1.5" fill="rgb(219,219,219)"/><path d="M75,153 L69,169" fill="none" stroke="rgb(76,76,76)" stroke-width="3" stroke-linecap="round" filter="url(#bl1)"/><path d="M78,150 L124,152" fill="none" stroke="rgb(83,83,83)" stroke-width="2.5" stroke-linecap="round" filter="url(#bl1)"/><path d="M34,76 L53,52" fill="none" stroke="rgb(76,76,76)" stroke-width="2.5" stroke-linecap="round" filter="url(#bl1)"/><ellipse cx="42" cy="67" rx="2" ry="2" fill="rgb(166,166,166)"/><ellipse cx="35" cy="76" rx="2" ry="1.5" fill="rgb(153,153,153)"/><path d="M132,41 L169,71" fill="none" stroke="rgb(76,76,76)" stroke-width="3" stroke-linecap="round" filter="url(#bl1)"/><ellipse cx="162" cy="69" rx="6" ry="5" fill="rgb(128,128,128)" filter="url(#bl1)"/><ellipse cx="147" cy="57" rx="2" ry="2" fill="rgb(178,178,178)"/><path d="M156,100 L158,131" fill="none" stroke="rgb(76,76,76)" stroke-width="2.5" stroke-linecap="round" filter="url(#bl1)"/><path d="M42,132 L44,140" fill="none" stroke="rgb(98,98,98)" stroke-width="2" stroke-linecap="round"/><ellipse cx="3" cy="29" rx="2" ry="3" fill="rgb(98,98,98)"/></g></g>
<g transform="translate(641,390)"><g filter="url(#jet4)"><rect width="183" height="182" fill="rgb(31,31,31)"/><rect x="0" y="0" width="182" height="182" rx="0" fill="rgb(41,41,41)"/><path d="M89,14 L32,84 L18,150" fill="none" stroke="rgb(61,61,61)" stroke-width="4" stroke-linecap="round" filter="url(#bl2)"/><path d="M89,14 L133,53 L160,98" fill="none" stroke="rgb(61,61,61)" stroke-width="4" stroke-linecap="round" filter="url(#bl2)"/><path d="M76,53 L110,53 L110,108 L76,108 Z" fill="rgb(76,76,76)" filter="url(#bl2)" /><ellipse cx="91" cy="82" rx="4" ry="7" fill="rgb(204,204,204)" filter="url(#bl1)"/><ellipse cx="88" cy="105" rx="4" ry="6" fill="rgb(98,98,98)" filter="url(#bl1)"/><path d="M64,142 L74,110 L108,110 L108,142 Z" fill="rgb(93,93,93)" filter="url(#bl1)" /><ellipse cx="84" cy="123" rx="7" ry="7" fill="rgb(38,38,38)" filter="url(#bl1)"/><ellipse cx="69" cy="137" rx="2" ry="2" fill="rgb(191,191,191)"/><ellipse cx="90" cy="155" rx="20" ry="14" fill="rgb(66,66,66)" filter="url(#bl2)"/><rect x="85" y="35" width="25" height="26" rx="7" fill="rgb(209,209,209)"/><path d="M86,58 L110,58" fill="none" stroke="rgb(153,153,153)" stroke-width="3" stroke-linecap="round" filter="url(#bl1)"/><ellipse cx="156" cy="80" rx="6" ry="10" fill="rgb(103,103,103)" filter="url(#bl1)"/><ellipse cx="176" cy="119" rx="6" ry="8" fill="rgb(115,115,115)" filter="url(#bl1)"/><ellipse cx="171" cy="156" rx="9" ry="7" fill="rgb(78,78,78)" filter="url(#bl1)"/><ellipse cx="5" cy="117" rx="3" ry="3" fill="rgb(128,128,128)" filter="url(#bl1)"/><path d="M156,5 L178,18" fill="none" stroke="rgb(76,76,76)" stroke-width="3" stroke-linecap="round" filter="url(#bl1)"/></g></g>
<g transform="translate(832,390)"><g filter="url(#jet5)"><rect width="182" height="182" fill="rgb(31,31,31)"/><path d="M62,128 C58,105 66,86 78,76 L110,76 C122,86 126,110 122,130 C116,138 70,138 62,128 Z" fill="rgb(91,91,91)" filter="url(#bl1)" /><ellipse cx="93" cy="103" rx="9" ry="10" fill="rgb(33,33,33)" filter="url(#bl1)"/><ellipse cx="90" cy="82" rx="9" ry="6" fill="rgb(51,51,51)" filter="url(#bl1)"/><ellipse cx="96" cy="86" rx="2.5" ry="2.5" fill="rgb(98,98,98)"/><path d="M66,134 L120,134 L116,162 L72,162 Z" fill="rgb(56,56,56)" filter="url(#bl3)" /><path d="M86,25 C84,10 112,8 114,24 L111,74 L83,67 Z" fill="rgb(209,209,209)" /><path d="M30,52 L42,28" fill="none" stroke="rgb(78,78,78)" stroke-width="2" stroke-linecap="round" filter="url(#bl1)"/><path d="M2,40 L6,80" fill="none" stroke="rgb(76,76,76)" stroke-width="2.5" stroke-linecap="round" filter="url(#bl1)"/><path d="M140,35 L165,45" fill="none" stroke="rgb(61,61,61)" stroke-width="3" stroke-linecap="round" filter="url(#bl2)"/></g><line x1="11" y1="121.3" x2="11" y2="167.8" stroke="#f8e60a" stroke-width="2"/><polygon fill="#f8e60a" points="6.2,121.3 11,116.7 15.8,121.3 11,125.89999999999999"/><polygon fill="#f8e60a" points="6.2,167.8 11,163.20000000000002 15.8,167.8 11,172.4"/><text x="24.6" y="152.4" class="sc" transform="translate(24.6,152.4) scale(0.97,1) translate(-24.6,-152.4)">1 cm</text></g>
<g transform="translate(73,642)"><g filter="url(#jet6)"><rect width="182" height="182" fill="rgb(31,31,31)"/><rect x="82" y="24" width="27" height="60" rx="5" fill="rgb(80,80,80)" filter="url(#bl1)"/><rect x="84" y="26" width="23" height="20" rx="4" fill="rgb(153,153,153)"/><path d="M95,47 L106,47 L106,80 L97,80 Z" fill="rgb(33,33,33)" filter="url(#bl1)" /><ellipse cx="90" cy="67" rx="7" ry="12.5" fill="rgb(217,217,217)"/><path d="M77,82 L107,82 L108,110 L74,110 Z" fill="rgb(51,51,51)" filter="url(#bl2)" /><ellipse cx="89" cy="105" rx="7" ry="7" fill="rgb(76,76,76)" filter="url(#bl1)"/><ellipse cx="89" cy="105" rx="3.5" ry="3.5" fill="rgb(36,36,36)"/><path d="M72,110 L108,110 L108,132 L71,132 Z" fill="rgb(91,91,91)" filter="url(#bl1)" /><ellipse cx="88" cy="117" rx="5" ry="5" fill="rgb(36,36,36)" filter="url(#bl1)"/><ellipse cx="88" cy="150" rx="22" ry="17" fill="rgb(56,56,56)" filter="url(#bl2)"/><path d="M36,92 L38,146" fill="none" stroke="rgb(88,88,88)" stroke-width="6" stroke-linecap="round" filter="url(#bl1)"/><path d="M36,108 L37,128" fill="none" stroke="rgb(140,140,140)" stroke-width="2.5" stroke-linecap="round" filter="url(#bl1)"/><path d="M7,124 L43,57" fill="none" stroke="rgb(69,69,69)" stroke-width="2.5" stroke-linecap="round" filter="url(#bl1)"/><path d="M0,140 L7,162" fill="none" stroke="rgb(69,69,69)" stroke-width="2.5" stroke-linecap="round" filter="url(#bl1)"/><path d="M131,50 Q160,80 155,140" fill="none" stroke="rgb(103,103,103)" stroke-width="4" stroke-linecap="round" filter="url(#bl1)"/><path d="M157,100 L155,132" fill="none" stroke="rgb(148,148,148)" stroke-width="2" stroke-linecap="round"/><ellipse cx="147" cy="142" rx="3" ry="3" fill="rgb(98,98,98)"/><path d="M178,103 L182,114" fill="none" stroke="rgb(88,88,88)" stroke-width="3" stroke-linecap="round"/></g><polygon fill="#fff" points="31.7,83.3 61.0,112.5 57.2,116.3 72.5,121.5 67.3,106.2 63.5,110.0 34.3,80.7"/></g>
<g transform="translate(261,642)"><g filter="url(#jet7)"><rect width="182" height="182" fill="rgb(31,31,31)"/><path d="M82,76 L107,76 L107,107 L82,107 Z" fill="rgb(46,46,46)" filter="url(#bl2)" /><ellipse cx="85" cy="82" rx="2" ry="2" fill="rgb(128,128,128)"/><path d="M77,108 C82,104 92,106 96,114 C100,106 110,104 114,108 L112,130 L80,132 Z" fill="rgb(93,93,93)" filter="url(#bl1)" /><path d="M88,106 L104,106 L96,124 Z" fill="rgb(33,33,33)" filter="url(#bl1)" /><ellipse cx="95" cy="98" rx="5" ry="5" fill="rgb(36,36,36)" filter="url(#bl1)"/><path d="M72,132 L110,132 L108,176 L68,178 Z" fill="rgb(54,54,54)" filter="url(#bl2)" /><path d="M76,140 L70,176" fill="none" stroke="rgb(69,69,69)" stroke-width="2.5" stroke-linecap="round" filter="url(#bl1)"/><path d="M95,55 C91,55 89,64 89,70 C89,76 92,78 95,78 C98,78 101,76 101,70 C101,63 99,55 95,55 Z" fill="rgb(217,217,217)" /><path d="M59,52 L64,43" fill="none" stroke="rgb(88,88,88)" stroke-width="2" stroke-linecap="round"/><path d="M28,100 L11,121" fill="none" stroke="rgb(69,69,69)" stroke-width="2" stroke-linecap="round" filter="url(#bl1)"/><path d="M148,62 L178,107" fill="none" stroke="rgb(88,88,88)" stroke-width="2.5" stroke-linecap="round" filter="url(#bl1)"/><path d="M82,12 L100,22" fill="none" stroke="rgb(56,56,56)" stroke-width="2" stroke-linecap="round" filter="url(#bl1)"/></g></g>
<g transform="translate(449,642)"><g filter="url(#jet8)"><rect width="182" height="182" fill="rgb(31,31,31)"/><path d="M100,48 L104,13 L113,12 L118,48" fill="none" stroke="rgb(78,78,78)" stroke-width="3" stroke-linecap="round" filter="url(#bl1)"/><path d="M103,16 L112,16 L116,46 L102,46 Z" fill="rgb(51,51,51)" filter="url(#bl1)" /><path d="M87,75 L83,89" fill="none" stroke="rgb(88,88,88)" stroke-width="2.5" stroke-linecap="round" filter="url(#bl1)"/><ellipse cx="96" cy="94" rx="5" ry="5" fill="rgb(93,93,93)" filter="url(#bl1)"/><path d="M76,102 L86,101 L96,113 L106,101 L113,102 L113,128 L76,130 Z" fill="rgb(91,91,91)" filter="url(#bl1)" /><path d="M96,104 L96,126" fill="none" stroke="rgb(36,36,36)" stroke-width="3" stroke-linecap="round" filter="url(#bl1)"/><path d="M72,130 L113,128 L112,165 L70,167 Z" fill="rgb(61,61,61)" filter="url(#bl2)" /><ellipse cx="91" cy="140" rx="6" ry="5" fill="rgb(33,33,33)" filter="url(#bl1)"/><path d="M74,146 L70,164" fill="none" stroke="rgb(76,76,76)" stroke-width="2.5" stroke-linecap="round" filter="url(#bl1)"/><ellipse cx="100" cy="60" rx="6" ry="9.5" fill="rgb(214,214,214)" transform="rotate(15 100 60)"/><path d="M7,53 L0,62" fill="none" stroke="rgb(71,71,71)" stroke-width="2" stroke-linecap="round"/><path d="M59,52 L64,46" fill="none" stroke="rgb(78,78,78)" stroke-width="2" stroke-linecap="round"/><path d="M42,78 L41,107" fill="none" stroke="rgb(61,61,61)" stroke-width="2" stroke-linecap="round" filter="url(#bl1)"/><path d="M11,110 L36,96" fill="none" stroke="rgb(56,56,56)" stroke-width="2" stroke-linecap="round" filter="url(#bl1)"/><ellipse cx="145" cy="50" rx="3" ry="3" fill="rgb(76,76,76)"/></g></g>
<g transform="translate(641,642)"><g filter="url(#jet9)"><rect width="183" height="182" fill="rgb(31,31,31)"/><path d="M92,58 L116,116 L75,116 Z" fill="rgb(91,91,91)" filter="url(#bl1)" /><ellipse cx="96" cy="89" rx="8" ry="8" fill="rgb(36,36,36)" filter="url(#bl1)"/><ellipse cx="97" cy="85" rx="3" ry="2.5" fill="rgb(103,103,103)"/><path d="M64,114 L110,114 L112,142 L66,142 Z" fill="rgb(64,64,64)" filter="url(#bl1)" /><ellipse cx="80" cy="126" rx="6" ry="5" fill="rgb(36,36,36)" filter="url(#bl1)"/><ellipse cx="98" cy="128" rx="6" ry="5" fill="rgb(36,36,36)" filter="url(#bl1)"/><path d="M68,140 L100,142" fill="none" stroke="rgb(78,78,78)" stroke-width="2.5" stroke-linecap="round" filter="url(#bl1)"/><path d="M68,27 Q48,38 36,64" fill="none" stroke="rgb(93,93,93)" stroke-width="3.5" stroke-linecap="round" filter="url(#bl1)"/><path d="M36,70 L36,124" fill="none" stroke="rgb(51,51,51)" stroke-width="2" stroke-linecap="round" filter="url(#bl1)"/><ellipse cx="36" cy="123" rx="1.5" ry="3" fill="rgb(191,191,191)"/><path d="M148,37 L160,68" fill="none" stroke="rgb(98,98,98)" stroke-width="3.5" stroke-linecap="round" filter="url(#bl1)"/><path d="M160,70 L164,107 L156,137" fill="none" stroke="rgb(61,61,61)" stroke-width="2.5" stroke-linecap="round" filter="url(#bl1)"/><ellipse cx="156" cy="137" rx="1.5" ry="3.5" fill="rgb(191,191,191)"/><path d="M128,5 L142,23" fill="none" stroke="rgb(66,66,66)" stroke-width="2.5" stroke-linecap="round" filter="url(#bl1)"/><ellipse cx="162" cy="16" rx="2" ry="2" fill="rgb(115,115,115)"/></g></g>
<g transform="translate(832,642)"><g filter="url(#jet10)"><rect width="182" height="182" fill="rgb(31,31,31)"/><path d="M75,0 L100,0 L100,60 L75,60 Z" fill="rgb(51,51,51)" filter="url(#bl2)" /><path d="M76,0 L76,58" fill="none" stroke="rgb(61,61,61)" stroke-width="2.5" stroke-linecap="round" filter="url(#bl1)"/><path d="M98,0 L99,58" fill="none" stroke="rgb(61,61,61)" stroke-width="2.5" stroke-linecap="round" filter="url(#bl1)"/><ellipse cx="98" cy="44" rx="1.5" ry="2" fill="rgb(178,178,178)"/><ellipse cx="87" cy="64" rx="5" ry="5" fill="rgb(93,93,93)" filter="url(#bl1)"/><path d="M62,110 L70,76 L80,74 L86,90 L92,76 L100,76 L107,110 Z" fill="rgb(98,98,98)" filter="url(#bl1)" /><path d="M64,110 L108,110 L110,151 L62,140 Z" fill="rgb(56,56,56)" filter="url(#bl1)" /><path d="M64,116 Q86,106 108,118" fill="none" stroke="rgb(78,78,78)" stroke-width="2.5" stroke-linecap="round" filter="url(#bl1)"/><path d="M66,128 Q90,122 106,140" fill="none" stroke="rgb(76,76,76)" stroke-width="2.5" stroke-linecap="round" filter="url(#bl1)"/><ellipse cx="84" cy="128" rx="8" ry="6" fill="rgb(36,36,36)" filter="url(#bl1)"/><path d="M41,20 L25,34" fill="none" stroke="rgb(83,83,83)" stroke-width="3" stroke-linecap="round" filter="url(#bl1)"/><ellipse cx="40" cy="21" rx="1.5" ry="3" fill="rgb(178,178,178)" transform="rotate(30 40 21)"/><path d="M124,20 L142,41 L164,60" fill="none" stroke="rgb(83,83,83)" stroke-width="2.5" stroke-linecap="round" filter="url(#bl1)"/><ellipse cx="151" cy="66" rx="2" ry="2" fill="rgb(178,178,178)"/><path d="M152,62 L148,124" fill="none" stroke="rgb(66,66,66)" stroke-width="2" stroke-linecap="round" filter="url(#bl1)"/><path d="M148,118 L146,128" fill="none" stroke="rgb(115,115,115)" stroke-width="2" stroke-linecap="round"/><ellipse cx="18" cy="117" rx="3" ry="3" fill="rgb(93,93,93)"/></g><line x1="11" y1="115.5" x2="11" y2="161.7" stroke="#f8e60a" stroke-width="2"/><polygon fill="#f8e60a" points="6.2,115.5 11,110.9 15.8,115.5 11,120.1"/><polygon fill="#f8e60a" points="6.2,161.7 11,157.1 15.8,161.7 11,166.29999999999998"/><text x="24.6" y="145.2" class="sc" transform="translate(24.6,145.2) scale(0.97,1) translate(-24.6,-145.2)">1 cm</text></g>
<g transform="translate(73,833)"><g filter="url(#jet11)"><rect width="182" height="181" fill="rgb(31,31,31)"/><path d="M82,18 L104,18 L104,80 L82,80 Z" fill="rgb(43,43,43)" filter="url(#bl3)" /><path d="M84,40 L84,78" fill="none" stroke="rgb(61,61,61)" stroke-width="2.5" stroke-linecap="round" filter="url(#bl1)"/><path d="M102,40 L102,78" fill="none" stroke="rgb(61,61,61)" stroke-width="2.5" stroke-linecap="round" filter="url(#bl1)"/><path d="M63,122 L64,92 L72,83 L102,83 L102,114 C101,126 92,128 78,126 Z" fill="rgb(96,96,96)" filter="url(#bl1)" /><ellipse cx="87" cy="96" rx="7" ry="7" fill="rgb(36,36,36)" filter="url(#bl1)"/><ellipse cx="87" cy="80" rx="4.5" ry="4.5" fill="rgb(88,88,88)" filter="url(#bl1)"/><ellipse cx="87" cy="80" rx="1.8" ry="1.8" fill="rgb(204,204,204)"/><ellipse cx="87" cy="64" rx="3" ry="3" fill="rgb(140,140,140)" filter="url(#bl1)"/><ellipse cx="102" cy="68" rx="2" ry="2.5" fill="rgb(184,184,184)"/><ellipse cx="87" cy="47" rx="2.5" ry="2.5" fill="rgb(98,98,98)"/><ellipse cx="101" cy="51" rx="2.5" ry="2.5" fill="rgb(98,98,98)"/><ellipse cx="76" cy="132" rx="16" ry="11" fill="rgb(71,71,71)" filter="url(#bl1)"/><path d="M0,172 Q44,132 100,142 Q118,150 124,180" fill="none" stroke="rgb(69,69,69)" stroke-width="6" stroke-linecap="round" filter="url(#bl2)"/><path d="M25,9 L5,34" fill="none" stroke="rgb(88,88,88)" stroke-width="3" stroke-linecap="round" filter="url(#bl1)"/><ellipse cx="43" cy="45" rx="2" ry="2" fill="rgb(153,153,153)"/><path d="M142,53 L148,100" fill="none" stroke="rgb(66,66,66)" stroke-width="2.5" stroke-linecap="round" filter="url(#bl1)"/><ellipse cx="169" cy="107" rx="5" ry="5" fill="rgb(91,91,91)" filter="url(#bl1)"/><ellipse cx="130" cy="142" rx="1.5" ry="5" fill="rgb(166,166,166)" transform="rotate(15 130 142)"/><path d="M110,170 L116,182" fill="none" stroke="rgb(71,71,71)" stroke-width="2" stroke-linecap="round" filter="url(#bl1)"/></g><polygon fill="#fff" points="21.7,63.3 51.4,92.6 47.6,96.4 63.0,101.5 57.7,86.2 53.9,90.0 24.3,60.7"/></g>
<g transform="translate(261,833)"><g filter="url(#jet12)"><rect width="182" height="181" fill="rgb(31,31,31)"/><ellipse cx="85" cy="87" rx="4" ry="4" fill="rgb(78,78,78)"/><ellipse cx="85" cy="87" rx="2" ry="2" fill="rgb(36,36,36)"/><ellipse cx="104" cy="83" rx="2.5" ry="2.5" fill="rgb(128,128,128)"/><path d="M80,94 L108,94 L116,132 L80,135 Z" fill="rgb(93,93,93)" filter="url(#bl1)" /><ellipse cx="98" cy="110" rx="9" ry="9" fill="rgb(36,36,36)" filter="url(#bl1)"/><ellipse cx="97" cy="98" rx="3" ry="3" fill="rgb(98,98,98)"/><path d="M76,132 L114,130 L112,158 L78,162 Z" fill="rgb(56,56,56)" filter="url(#bl2)" /><path d="M78,140 L112,136" fill="none" stroke="rgb(78,78,78)" stroke-width="2.5" stroke-linecap="round" filter="url(#bl1)"/><path d="M80,152 L110,148" fill="none" stroke="rgb(76,76,76)" stroke-width="2.5" stroke-linecap="round" filter="url(#bl1)"/><rect x="82" y="42" width="19" height="34" rx="5" fill="rgb(178,178,178)"/><ellipse cx="92" cy="55" rx="3" ry="4" fill="rgb(153,153,153)"/><ellipse cx="88" cy="48" rx="2" ry="2" fill="rgb(148,148,148)"/><ellipse cx="85" cy="69" rx="2" ry="2" fill="rgb(230,230,230)"/><path d="M18,55 L12,68" fill="none" stroke="rgb(76,76,76)" stroke-width="2" stroke-linecap="round" filter="url(#bl1)"/><path d="M7,35 L4,50" fill="none" stroke="rgb(66,66,66)" stroke-width="2" stroke-linecap="round" filter="url(#bl1)"/><ellipse cx="50" cy="146" rx="1.5" ry="4" fill="rgb(128,128,128)"/><path d="M121,39 L146,60" fill="none" stroke="rgb(76,76,76)" stroke-width="2.5" stroke-linecap="round" filter="url(#bl1)"/><path d="M160,32 L178,46" fill="none" stroke="rgb(61,61,61)" stroke-width="2" stroke-linecap="round" filter="url(#bl1)"/><ellipse cx="180" cy="73" rx="2" ry="2" fill="rgb(153,153,153)"/><path d="M115,160 L160,167" fill="none" stroke="rgb(56,56,56)" stroke-width="2" stroke-linecap="round" filter="url(#bl1)"/></g></g>
<g transform="translate(449,833)"><g filter="url(#jet13)"><rect width="182" height="181" fill="rgb(31,31,31)"/><ellipse cx="87" cy="28" rx="4" ry="4" fill="rgb(66,66,66)" filter="url(#bl1)"/><path d="M78,68 L100,68 L108,128 L71,128 Z" fill="rgb(91,91,91)" filter="url(#bl1)" /><ellipse cx="89" cy="96" rx="9" ry="9" fill="rgb(36,36,36)" filter="url(#bl1)"/><ellipse cx="88" cy="76" rx="5" ry="4" fill="rgb(38,38,38)"/><ellipse cx="80" cy="89" rx="2" ry="2" fill="rgb(140,140,140)"/><path d="M74,128 L108,128 L112,148 L100,155 L78,140 Z" fill="rgb(71,71,71)" filter="url(#bl2)" /><path d="M76,123 Q90,116 108,123" fill="none" stroke="rgb(38,38,38)" stroke-width="2" stroke-linecap="round"/><path d="M86,36 C80,36 78,48 78,56 C78,64 82,66 86,66 C92,66 94,62 94,54 C94,44 92,36 86,36 Z" fill="rgb(209,209,209)" /><path d="M108,16 Q130,30 140,62" fill="none" stroke="rgb(83,83,83)" stroke-width="2.5" stroke-linecap="round" filter="url(#bl1)"/><path d="M11,5 L5,14" fill="none" stroke="rgb(85,85,85)" stroke-width="2.5" stroke-linecap="round"/><path d="M37,46 L32,57" fill="none" stroke="rgb(76,76,76)" stroke-width="2" stroke-linecap="round"/><ellipse cx="9" cy="29" rx="2" ry="2" fill="rgb(76,76,76)"/></g></g>
<g transform="translate(641,833)"><g filter="url(#jet14)"><rect width="183" height="181" fill="rgb(31,31,31)"/><ellipse cx="71" cy="78" rx="5" ry="5" fill="rgb(93,93,93)" filter="url(#bl1)"/><ellipse cx="88" cy="71" rx="3" ry="3" fill="rgb(85,85,85)"/><ellipse cx="84" cy="88" rx="6" ry="6" fill="rgb(93,93,93)" filter="url(#bl1)"/><path d="M71,96 L88,89 L108,112 L106,124 L78,124 Z" fill="rgb(91,91,91)" filter="url(#bl1)" /><ellipse cx="87" cy="103" rx="9" ry="9" fill="rgb(36,36,36)" filter="url(#bl1)"/><path d="M78,124 L108,120 L124,132 L124,144 L82,151 Z" fill="rgb(76,76,76)" filter="url(#bl2)" /><path d="M84,140 L122,132" fill="none" stroke="rgb(128,128,128)" stroke-width="2.5" stroke-linecap="round" filter="url(#bl1)"/><path d="M65,31 L71,31 L85,59 L80,68 L70,68 L66,55 Z" fill="rgb(214,214,214)" /><ellipse cx="72" cy="62" rx="3" ry="3" fill="rgb(230,230,230)"/><path d="M124,37 Q143,55 146,89" fill="none" stroke="rgb(69,69,69)" stroke-width="2.5" stroke-linecap="round" filter="url(#bl1)"/><ellipse cx="164" cy="92" rx="9" ry="7" fill="rgb(56,56,56)" filter="url(#bl1)"/><ellipse cx="151" cy="114" rx="2" ry="2.5" fill="rgb(128,128,128)"/><path d="M146,136 L156,148" fill="none" stroke="rgb(83,83,83)" stroke-width="2.5" stroke-linecap="round" filter="url(#bl1)"/><ellipse cx="27" cy="76" rx="2" ry="3" fill="rgb(98,98,98)"/><ellipse cx="47" cy="148" rx="2" ry="3" fill="rgb(140,140,140)"/><ellipse cx="4" cy="156" rx="2" ry="2" fill="rgb(98,98,98)"/></g></g>
<g transform="translate(832,833)"><g filter="url(#jet15)"><rect width="182" height="181" fill="rgb(31,31,31)"/><ellipse cx="87" cy="28" rx="4" ry="5" fill="rgb(51,51,51)" filter="url(#bl1)"/><path d="M80,78 L106,78 L119,130 L76,132 Z" fill="rgb(93,93,93)" filter="url(#bl1)" /><ellipse cx="94" cy="96" rx="7" ry="7" fill="rgb(36,36,36)" filter="url(#bl1)"/><ellipse cx="94" cy="96" rx="2.5" ry="2.5" fill="rgb(88,88,88)"/><ellipse cx="92" cy="110" rx="6" ry="5" fill="rgb(36,36,36)" filter="url(#bl1)"/><path d="M76,132 L119,130 L120,158 L78,160 Z" fill="rgb(80,80,80)" filter="url(#bl2)" /><path d="M78,136 L118,134" fill="none" stroke="rgb(41,41,41)" stroke-width="2" stroke-linecap="round"/><path d="M91,38 C84,38 82,48 82,60 L82,74 L100,76 L100,60 C100,48 98,38 91,38 Z" fill="rgb(209,209,209)" /><path d="M140,150 L160,178 L128,182 Z" fill="rgb(61,61,61)" filter="url(#bl2)" /><path d="M48,52 Q35,75 30,103" fill="none" stroke="rgb(66,66,66)" stroke-width="2" stroke-linecap="round" filter="url(#bl1)"/><path d="M142,53 L153,71" fill="none" stroke="rgb(76,76,76)" stroke-width="2" stroke-linecap="round" filter="url(#bl1)"/><path d="M21,12 L14,30" fill="none" stroke="rgb(66,66,66)" stroke-width="2" stroke-linecap="round" filter="url(#bl1)"/></g><line x1="11" y1="115.5" x2="11" y2="161.7" stroke="#f8e60a" stroke-width="2"/><polygon fill="#f8e60a" points="6.2,115.5 11,110.9 15.8,115.5 11,120.1"/><polygon fill="#f8e60a" points="6.2,161.7 11,157.1 15.8,161.7 11,166.29999999999998"/><text x="24.6" y="145.8" class="sc" transform="translate(24.6,145.8) scale(0.97,1) translate(-24.6,-145.8)">1 cm</text></g>
<path d="M124.8,20.5 V268.5 H498.5" fill="none" stroke="#000" stroke-width="3" stroke-linecap="round" stroke-linejoin="round"/>
<line x1="116.8" y1="20.5" x2="124.8" y2="20.5" stroke="#000" stroke-width="3" stroke-linecap="round"/>
<text x="113.8" y="27.7" text-anchor="end" class="t20">1500</text>
<line x1="116.8" y1="103.16666666666666" x2="124.8" y2="103.16666666666666" stroke="#000" stroke-width="3" stroke-linecap="round"/>
<text x="113.8" y="110.4" text-anchor="end" class="t20">1000</text>
<line x1="116.8" y1="185.83333333333331" x2="124.8" y2="185.83333333333331" stroke="#000" stroke-width="3" stroke-linecap="round"/>
<text x="113.8" y="193.0" text-anchor="end" class="t20">500</text>
<line x1="116.8" y1="268.5" x2="124.8" y2="268.5" stroke="#000" stroke-width="3" stroke-linecap="round"/>
<text x="113.8" y="275.7" text-anchor="end" class="t20">0</text>
<line x1="124.8" y1="268.5" x2="124.8" y2="276.5" stroke="#000" stroke-width="3" stroke-linecap="round"/>
<text x="124.8" y="297.3" text-anchor="middle" class="t20">-10</text>
<line x1="218.2" y1="268.5" x2="218.2" y2="276.5" stroke="#000" stroke-width="3" stroke-linecap="round"/>
<text x="218.2" y="297.3" text-anchor="middle" class="t20">0</text>
<line x1="311.6" y1="268.5" x2="311.6" y2="276.5" stroke="#000" stroke-width="3" stroke-linecap="round"/>
<text x="311.6" y="297.3" text-anchor="middle" class="t20">10</text>
<line x1="405.0" y1="268.5" x2="405.0" y2="276.5" stroke="#000" stroke-width="3" stroke-linecap="round"/>
<text x="405.0" y="297.3" text-anchor="middle" class="t20">20</text>
<line x1="498.40000000000003" y1="268.5" x2="498.40000000000003" y2="276.5" stroke="#000" stroke-width="3" stroke-linecap="round"/>
<text x="498.40000000000003" y="297.3" text-anchor="middle" class="t20">30</text>
<line x1="218.2" y1="17" x2="218.2" y2="272" stroke="#000" stroke-width="2.6" stroke-dasharray="8 7.5"/>
<text x="311.5" y="324" text-anchor="middle" class="t24">Weeks</text>
<text transform="translate(32,154) rotate(-90)" text-anchor="middle" class="t24 rl">Prostate Volume</text>
<text transform="translate(61,154) rotate(-90)" text-anchor="middle" class="t24">(mm<tspan font-size="15" dy="-9">3</tspan><tspan dy="9">)</tspan></text>
<text x="12" y="38" class="t29">A</text>
<polyline points="211.4,226.0 220.5,199.4 236.7,226.0 292.6,234.6 460.0,111.9" fill="none" stroke="#000" stroke-width="2.6" stroke-linejoin="round"/>
<polyline points="211.0,215.2 220.5,177.8 236.7,181.6 292.6,207.0 460.0,138.4" fill="none" stroke="#000" stroke-width="2.6" stroke-linejoin="round"/>
<path d="M454.0,102.5 H466.0 M460,102.5 V121.3 M454.0,121.3 H466.0" stroke="#000" stroke-width="3" stroke-linecap="round" fill="none"/>
<path d="M454.0,131 H466.0 M460,131 V146.3 M454.0,146.3 H466.0" stroke="#000" stroke-width="3" stroke-linecap="round" fill="none"/>
<circle cx="211.4" cy="226.0" r="4.9" fill="#000"/>
<circle cx="220.5" cy="199.4" r="4.9" fill="#000"/>
<circle cx="236.7" cy="226.0" r="4.9" fill="#000"/>
<circle cx="292.6" cy="234.6" r="4.9" fill="#000"/>
<circle cx="460.0" cy="111.9" r="4.9" fill="#000"/>
<rect x="206.2" y="210.4" width="9.6" height="9.6" fill="#000"/>
<rect x="215.7" y="173.0" width="9.6" height="9.6" fill="#000"/>
<rect x="231.9" y="176.8" width="9.6" height="9.6" fill="#000"/>
<rect x="287.8" y="202.2" width="9.6" height="9.6" fill="#000"/>
<rect x="455.2" y="133.6" width="9.6" height="9.6" fill="#000"/>
<line x1="392.5" y1="25.4" x2="419.3" y2="25.4" stroke="#000" stroke-width="2.6"/>
<circle cx="405.8" cy="25.4" r="4.9" fill="#000"/>
<line x1="392.5" y1="53.5" x2="419.3" y2="53.5" stroke="#000" stroke-width="2.6"/>
<rect x="400.8" y="48.8" width="10" height="10" fill="#000"/>
<text x="434" y="32.3" class="t20">7663VL</text>
<text x="434" y="60.6" class="t20">7680JM</text>
<path d="M636.9,23.8 V271.4 H1009.5" fill="none" stroke="#000" stroke-width="3" stroke-linecap="round" stroke-linejoin="round"/>
<line x1="628.9" y1="23.799999999999983" x2="636.9" y2="23.799999999999983" stroke="#000" stroke-width="3" stroke-linecap="round"/>
<text x="625.9" y="31.0" text-anchor="end" class="t20">800</text>
<line x1="628.9" y1="85.69999999999999" x2="636.9" y2="85.69999999999999" stroke="#000" stroke-width="3" stroke-linecap="round"/>
<text x="625.9" y="92.9" text-anchor="end" class="t20">600</text>
<line x1="628.9" y1="147.59999999999997" x2="636.9" y2="147.59999999999997" stroke="#000" stroke-width="3" stroke-linecap="round"/>
<text x="625.9" y="154.8" text-anchor="end" class="t20">400</text>
<line x1="628.9" y1="209.49999999999997" x2="636.9" y2="209.49999999999997" stroke="#000" stroke-width="3" stroke-linecap="round"/>
<text x="625.9" y="216.7" text-anchor="end" class="t20">200</text>
<line x1="628.9" y1="271.4" x2="636.9" y2="271.4" stroke="#000" stroke-width="3" stroke-linecap="round"/>
<text x="625.9" y="278.6" text-anchor="end" class="t20">0</text>
<line x1="636.9" y1="271.4" x2="636.9" y2="279.4" stroke="#000" stroke-width="3" stroke-linecap="round"/>
<text x="636.9" y="300.2" text-anchor="middle" class="t20">-10</text>
<line x1="730.0" y1="271.4" x2="730.0" y2="279.4" stroke="#000" stroke-width="3" stroke-linecap="round"/>
<text x="730.0" y="300.2" text-anchor="middle" class="t20">0</text>
<line x1="823.1" y1="271.4" x2="823.1" y2="279.4" stroke="#000" stroke-width="3" stroke-linecap="round"/>
<text x="823.1" y="300.2" text-anchor="middle" class="t20">10</text>
<line x1="916.2" y1="271.4" x2="916.2" y2="279.4" stroke="#000" stroke-width="3" stroke-linecap="round"/>
<text x="916.2" y="300.2" text-anchor="middle" class="t20">20</text>
<line x1="1009.3" y1="271.4" x2="1009.3" y2="279.4" stroke="#000" stroke-width="3" stroke-linecap="round"/>
<text x="1009.3" y="300.2" text-anchor="middle" class="t20">30</text>
<line x1="730.5" y1="17" x2="730.5" y2="268" stroke="#000" stroke-width="2.6" stroke-dasharray="8 7.5"/>
<line x1="771.3" y1="70" x2="771.3" y2="268" stroke="#000" stroke-width="2.6" stroke-dasharray="8 7.5"/>
<text x="823.5" y="323.5" text-anchor="middle" class="t24">Weeks</text>
<text transform="translate(556.5,154) rotate(-90)" text-anchor="middle" class="t24 rl">Prostate Volume</text>
<text transform="translate(585.5,154) rotate(-90)" text-anchor="middle" class="t24">(mm<tspan font-size="15" dy="-9">3</tspan><tspan dy="9">)</tspan></text>
<text x="536" y="38" class="t29">B</text>
<polyline points="723.4,176.4 733.2,177.3 749.3,172.5 764.0,175.9 773.3,175.9 788.7,171.7 852.0,179.2 972.7,169.6" fill="none" stroke="#0f9a52" stroke-width="2.4" stroke-linejoin="round"/>
<polyline points="723.4,208.6 733.2,213.5 749.3,204.7 764.0,193.9 773.3,196.9 788.7,186.7" fill="none" stroke="#0f9a52" stroke-width="2.4" stroke-linejoin="round"/>
<polyline points="733.2,206.6 749.3,201.8 764.0,198.8 773.3,220.3 788.7,207.6 852.0,145.5 972.7,84.0" fill="none" stroke="#000" stroke-width="2.6" stroke-linejoin="round"/>
<polyline points="723.4,216.4 733.2,210.5 749.3,204.7 764.0,212.5 773.3,216.4 788.7,204.0 852.0,191.5 972.7,141.2" fill="none" stroke="#000" stroke-width="2.6" stroke-linejoin="round"/>
<path d="M846.0,140 H858.0 M852,140 V151 M846.0,151 H858.0" stroke="#000" stroke-width="3" stroke-linecap="round" fill="none"/>
<path d="M846.0,184 H858.0 M852,184 V199 M846.0,199 H858.0" stroke="#000" stroke-width="3" stroke-linecap="round" fill="none"/>
<path d="M966.7,134 H978.7 M972.7,134 V148 M966.7,148 H978.7" stroke="#000" stroke-width="3" stroke-linecap="round" fill="none"/>
<path d="M717.9,171.4 H728.9 M717.9,181.9 H728.9" stroke="#0f9a52" stroke-width="3" stroke-linecap="round"/>
<path d="M727.7,172.3 H738.7 M727.7,182.8 H738.7" stroke="#0f9a52" stroke-width="3" stroke-linecap="round"/>
<path d="M743.8,167.5 H754.8 M743.8,178.0 H754.8" stroke="#0f9a52" stroke-width="3" stroke-linecap="round"/>
<path d="M758.5,170.9 H769.5 M758.5,181.4 H769.5" stroke="#0f9a52" stroke-width="3" stroke-linecap="round"/>
<path d="M767.8,170.9 H778.8 M767.8,181.4 H778.8" stroke="#0f9a52" stroke-width="3" stroke-linecap="round"/>
<path d="M783.2,166.7 H794.2 M783.2,177.2 H794.2" stroke="#0f9a52" stroke-width="3" stroke-linecap="round"/>
<path d="M727.7,219.0 H738.7" stroke="#0f9a52" stroke-width="3" stroke-linecap="round"/>
<path d="M743.8,210.2 H754.8" stroke="#0f9a52" stroke-width="3" stroke-linecap="round"/>
<polygon points="718.4,171.9 728.4,171.9 723.4,180.9" fill="#fff" stroke="#0f9a52" stroke-width="3" stroke-linejoin="round"/>
<polygon points="728.2,172.8 738.2,172.8 733.2,181.8" fill="#fff" stroke="#0f9a52" stroke-width="3" stroke-linejoin="round"/>
<polygon points="744.3,168.0 754.3,168.0 749.3,177.0" fill="#fff" stroke="#0f9a52" stroke-width="3" stroke-linejoin="round"/>
<polygon points="759.0,171.4 769.0,171.4 764.0,180.4" fill="#fff" stroke="#0f9a52" stroke-width="3" stroke-linejoin="round"/>
<polygon points="768.3,171.4 778.3,171.4 773.3,180.4" fill="#fff" stroke="#0f9a52" stroke-width="3" stroke-linejoin="round"/>
<polygon points="783.7,167.2 793.7,167.2 788.7,176.2" fill="#fff" stroke="#0f9a52" stroke-width="3" stroke-linejoin="round"/>
<polygon points="847.0,174.7 857.0,174.7 852.0,183.7" fill="#fff" stroke="#0f9a52" stroke-width="3" stroke-linejoin="round"/>
<polygon points="967.7,165.1 977.7,165.1 972.7,174.1" fill="#fff" stroke="#0f9a52" stroke-width="3" stroke-linejoin="round"/>
<polygon points="718.4,213.1 728.4,213.1 723.4,204.1" fill="#fff" stroke="#0f9a52" stroke-width="3" stroke-linejoin="round"/>
<polygon points="728.2,218.0 738.2,218.0 733.2,209.0" fill="#fff" stroke="#0f9a52" stroke-width="3" stroke-linejoin="round"/>
<polygon points="744.3,209.2 754.3,209.2 749.3,200.2" fill="#fff" stroke="#0f9a52" stroke-width="3" stroke-linejoin="round"/>
<polygon points="759.0,198.4 769.0,198.4 764.0,189.4" fill="#fff" stroke="#0f9a52" stroke-width="3" stroke-linejoin="round"/>
<polygon points="768.3,201.4 778.3,201.4 773.3,192.4" fill="#fff" stroke="#0f9a52" stroke-width="3" stroke-linejoin="round"/>
<polygon points="783.7,191.2 793.7,191.2 788.7,182.2" fill="#fff" stroke="#0f9a52" stroke-width="3" stroke-linejoin="round"/>
<rect x="718.9" y="211.9" width="9" height="9" fill="#000"/>
<rect x="728.7" y="206.0" width="9" height="9" fill="#000"/>
<rect x="744.8" y="200.2" width="9" height="9" fill="#000"/>
<rect x="759.5" y="208.0" width="9" height="9" fill="#000"/>
<rect x="768.8" y="211.9" width="9" height="9" fill="#000"/>
<rect x="784.2" y="199.5" width="9" height="9" fill="#000"/>
<rect x="847.5" y="187.0" width="9" height="9" fill="#000"/>
<rect x="968.2" y="136.7" width="9" height="9" fill="#000"/>
<circle cx="733.2" cy="206.6" r="4.8" fill="#000"/>
<circle cx="749.3" cy="201.8" r="4.8" fill="#000"/>
<circle cx="764.0" cy="198.8" r="4.8" fill="#000"/>
<circle cx="773.3" cy="220.3" r="4.8" fill="#000"/>
<circle cx="788.7" cy="207.6" r="4.8" fill="#000"/>
<circle cx="852.0" cy="145.5" r="4.8" fill="#000"/>
<circle cx="972.7" cy="84.0" r="4.8" fill="#000"/>
<line x1="765" y1="23.4" x2="793.5" y2="23.4" stroke="#0f9a52" stroke-width="2.6"/>
<polygon points="774.3,18.7 784.3,18.7 779.3,27.7" fill="#fff" stroke="#0f9a52" stroke-width="3" stroke-linejoin="round"/>
<line x1="765" y1="51.9" x2="793.5" y2="51.9" stroke="#0f9a52" stroke-width="2.6"/>
<polygon points="774.3,56.8 784.3,56.8 779.3,47.8" fill="#fff" stroke="#0f9a52" stroke-width="3" stroke-linejoin="round"/>
<line x1="898" y1="23.4" x2="925" y2="23.4" stroke="#000" stroke-width="2.6"/>
<circle cx="910.0" cy="23.4" r="4.6" fill="#000"/>
<line x1="898" y1="51.9" x2="925" y2="51.9" stroke="#000" stroke-width="2.6"/>
<rect x="905.5" y="47.4" width="9" height="9" fill="#000"/>
<text x="809" y="30.5" class="t20">7685DZ</text>
<text x="809" y="59" class="t20">7597KN</text>
<text x="940.5" y="30.5" class="t20">7593DN</text>
<text x="940.5" y="59" class="t20">7612BN</text>
<text x="12" y="385.5" class="t29">C</text>
<text x="13" y="635.5" class="t29">D</text>
<text x="166.0" y="382.7" text-anchor="middle" class="t24">Baseline</text>
<text x="354.0" y="382.7" text-anchor="middle" class="t24">+2 days</text>
<text x="542.0" y="382.7" text-anchor="middle" class="t24">+14 days</text>
<text x="734.5" y="382.7" text-anchor="middle" class="t24">+2 months</text>
<text x="925.0" y="382.7" text-anchor="middle" class="t24">+6 months</text>
<text x="166.0" y="635.4" text-anchor="middle" class="t24">Baseline</text>
<text x="354.0" y="635.4" text-anchor="middle" class="t24">+2 days, inj. 1</text>
<text x="542.0" y="635.4" text-anchor="middle" class="t24">+2 days, inj. 2</text>
<text x="734.5" y="635.4" text-anchor="middle" class="t24">+2 months</text>
<text x="925.0" y="635.4" text-anchor="middle" class="t24">+6 months</text>
<text transform="translate(38.6,477) rotate(-90)" text-anchor="middle" class="t24 rl">LV/rhPSA/</text>
<text transform="translate(67,478.2) rotate(-90)" text-anchor="middle" class="t24 rl">rhCD25</text>
<text transform="translate(38.6,732) rotate(-90)" text-anchor="middle" class="t24 rl">LV/rhPSA/</text>
<text transform="translate(67,731.8) rotate(-90)" text-anchor="middle" class="t24 rl">rhCD25</text>
<text transform="translate(38.6,921.4) rotate(-90)" text-anchor="middle" class="t24 rl">LV/eGFP</text>
</svg></body></html>
